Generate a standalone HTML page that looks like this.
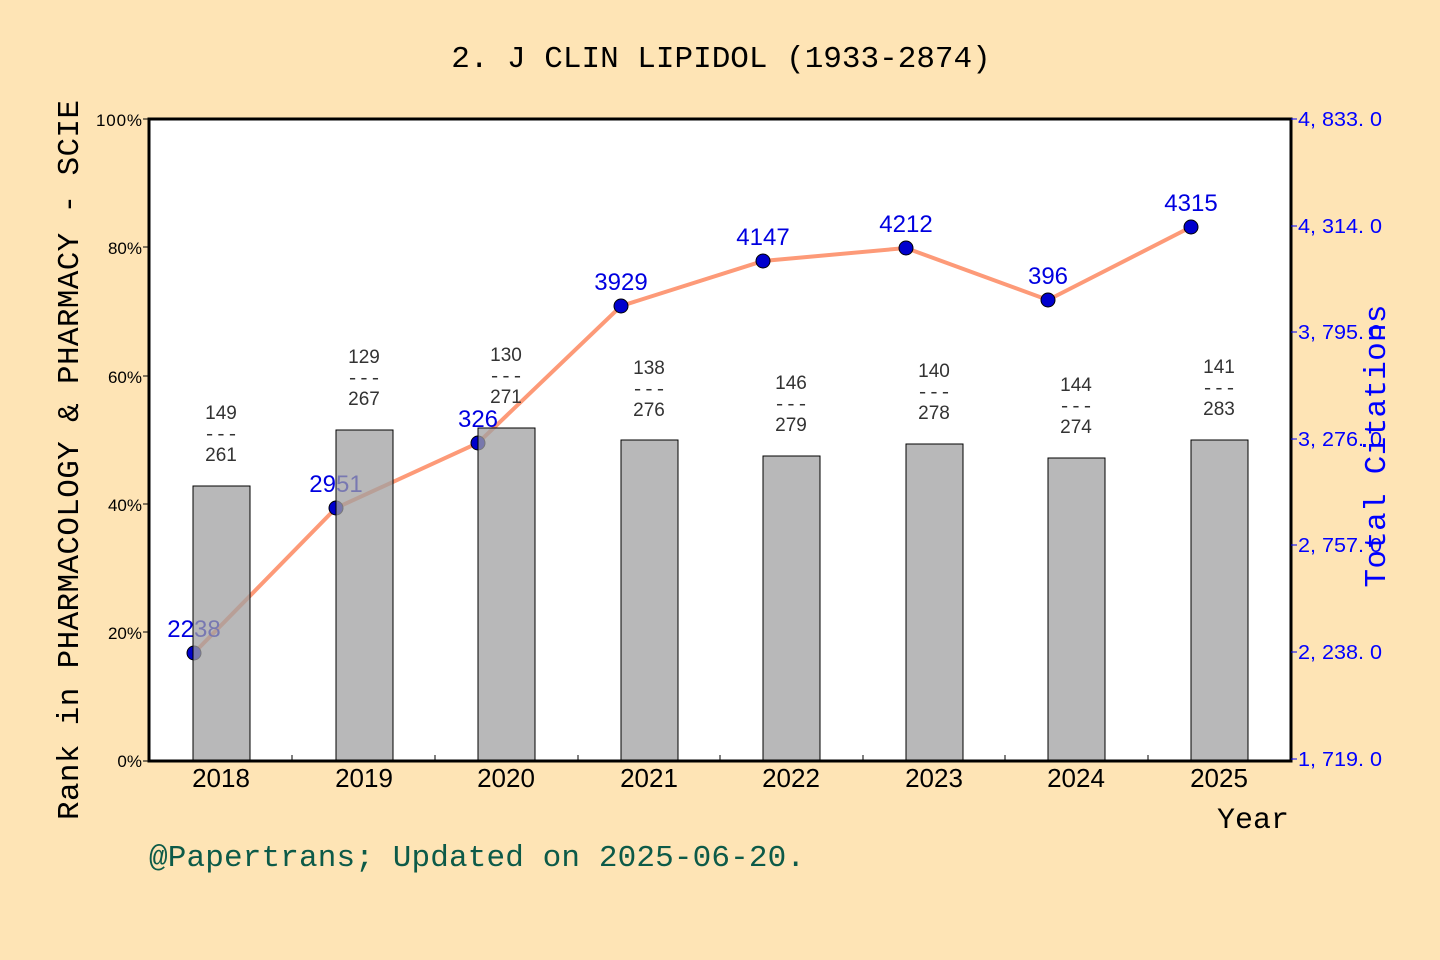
<!DOCTYPE html>
<html><head><meta charset="utf-8"><style>
html,body{margin:0;padding:0;background:#fee4b5;}
svg{display:block;}
text{font-family:"Liberation Sans",sans-serif;}
.m{font-family:"Liberation Mono",monospace;}
</style></head><body>
<svg width="1440" height="960" viewBox="0 0 1440 960" xmlns="http://www.w3.org/2000/svg">
<rect x="0" y="0" width="1440" height="960" fill="#fee4b5"/>
<text class="m" x="721" y="67" font-size="31" text-anchor="middle" fill="#000">2. J CLIN LIPIDOL (1933-2874)</text>
<rect x="149" y="119" width="1142" height="642" fill="#fff"/>
<polyline points="194,653 336,508 478,443 621,306 763,261 906,248 1048,300 1191,227" fill="none" stroke="#fd9a78" stroke-width="4"/>
<g fill="#0000cd" stroke="#000" stroke-width="1">
<circle cx="194" cy="653" r="7"/><circle cx="336" cy="508" r="7"/><circle cx="478" cy="443" r="7"/><circle cx="621" cy="306" r="7"/><circle cx="763" cy="261" r="7"/><circle cx="906" cy="248" r="7"/><circle cx="1048" cy="300" r="7"/><circle cx="1191" cy="227" r="7"/>
</g>
<g fill="#0000e0" font-size="24" text-anchor="middle">
<text x="194" y="637">2238</text><text x="336" y="492">2951</text><text x="478" y="427">326</text><text x="621" y="290">3929</text><text x="763" y="245">4147</text><text x="906" y="232">4212</text><text x="1048" y="284">396</text><text x="1191" y="211">4315</text>
</g>
<g fill="#a0a0a2" fill-opacity="0.75" stroke="#000" stroke-width="1">
<rect x="193" y="486" width="57" height="275"/>
<rect x="336" y="430" width="57" height="331"/>
<rect x="478" y="428" width="57" height="333"/>
<rect x="621" y="440" width="57" height="321"/>
<rect x="763" y="456" width="57" height="305"/>
<rect x="906" y="444" width="57" height="317"/>
<rect x="1048" y="458" width="57" height="303"/>
<rect x="1191" y="440" width="57" height="321"/>
</g>
<g fill="#333" font-size="19" text-anchor="middle">
<text x="221" y="419">149</text><text class="m" x="221" y="440">---</text><text x="221" y="461">261</text>
<text x="364" y="363">129</text><text class="m" x="364" y="384">---</text><text x="364" y="405">267</text>
<text x="506" y="361">130</text><text class="m" x="506" y="382">---</text><text x="506" y="403">271</text>
<text x="649" y="374">138</text><text class="m" x="649" y="395">---</text><text x="649" y="416">276</text>
<text x="791" y="389">146</text><text class="m" x="791" y="410">---</text><text x="791" y="431">279</text>
<text x="934" y="377">140</text><text class="m" x="934" y="398">---</text><text x="934" y="419">278</text>
<text x="1076" y="391">144</text><text class="m" x="1076" y="412">---</text><text x="1076" y="433">274</text>
<text x="1219" y="373">141</text><text class="m" x="1219" y="394">---</text><text x="1219" y="415">283</text>
</g>
<rect x="149" y="119" width="1142" height="642" fill="none" stroke="#000" stroke-width="3"/>
<g stroke="#000" stroke-width="1">
<line x1="143" y1="119" x2="149" y2="119"/><line x1="143" y1="247" x2="149" y2="247"/><line x1="143" y1="376" x2="149" y2="376"/><line x1="143" y1="504" x2="149" y2="504"/><line x1="143" y1="632" x2="149" y2="632"/><line x1="143" y1="761" x2="149" y2="761"/>
<line x1="292" y1="755" x2="292" y2="761"/><line x1="435" y1="755" x2="435" y2="761"/><line x1="578" y1="755" x2="578" y2="761"/><line x1="720" y1="755" x2="720" y2="761"/><line x1="863" y1="755" x2="863" y2="761"/><line x1="1005" y1="755" x2="1005" y2="761"/><line x1="1148" y1="755" x2="1148" y2="761"/>
</g>
<g font-size="17" text-anchor="end" fill="#000">
<text x="142" y="126" textLength="46">100%</text><text x="142" y="254">80%</text><text x="142" y="383">60%</text><text x="142" y="511">40%</text><text x="142" y="639">20%</text><text x="142" y="767">0%</text>
</g>
<g stroke="#0000ff" stroke-width="1">
<line x1="1291" y1="119" x2="1297" y2="119"/><line x1="1291" y1="226" x2="1297" y2="226"/><line x1="1291" y1="332" x2="1297" y2="332"/><line x1="1291" y1="439" x2="1297" y2="439"/><line x1="1291" y1="545" x2="1297" y2="545"/><line x1="1291" y1="652" x2="1297" y2="652"/><line x1="1291" y1="759" x2="1297" y2="759"/>
</g>
<g fill="#0000ff" font-size="20">
<text x="1298" y="126" textLength="84" lengthAdjust="spacingAndGlyphs">4, 833. 0</text><text x="1298" y="233" textLength="84" lengthAdjust="spacingAndGlyphs">4, 314. 0</text><text x="1298" y="339" textLength="84" lengthAdjust="spacingAndGlyphs">3, 795. 0</text><text x="1298" y="446" textLength="84" lengthAdjust="spacingAndGlyphs">3, 276. 0</text><text x="1298" y="552" textLength="84" lengthAdjust="spacingAndGlyphs">2, 757. 0</text><text x="1298" y="659" textLength="84" lengthAdjust="spacingAndGlyphs">2, 238. 0</text><text x="1298" y="766" textLength="84" lengthAdjust="spacingAndGlyphs">1, 719. 0</text>
</g>
<g font-size="26" text-anchor="middle" fill="#000">
<text x="221" y="787">2018</text><text x="364" y="787">2019</text><text x="506" y="787">2020</text><text x="649" y="787">2021</text><text x="791" y="787">2022</text><text x="934" y="787">2023</text><text x="1076" y="787">2024</text><text x="1219" y="787">2025</text>
</g>
<text class="m" x="1289" y="828" font-size="30" text-anchor="end" fill="#000">Year</text>
<text class="m" transform="translate(78,460) rotate(-90)" font-size="31" text-anchor="middle" fill="#000" textLength="720">Rank in PHARMACOLOGY &amp; PHARMACY - SCIE</text>
<text class="m" transform="translate(1385,446) rotate(-90)" font-size="31" text-anchor="middle" fill="#0000ff" textLength="283">Total Citations</text>
<text class="m" x="149" y="866" font-size="31" fill="#0d5a48" textLength="656">@Papertrans; Updated on 2025-06-20.</text>
</svg>
</body></html>
